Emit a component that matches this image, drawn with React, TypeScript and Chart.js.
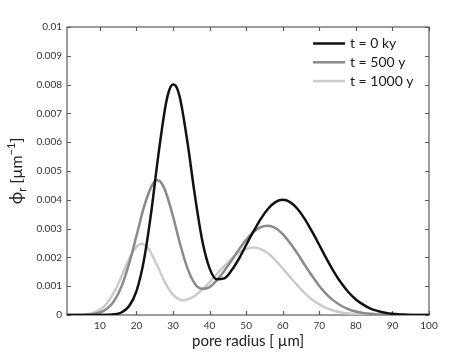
import React, { useEffect, useRef } from "react";
import { Chart, registerables } from "chart.js";

Chart.register(...registerables);

// ---- data ----
const seriesLabels = ["t = 0 ky", "t = 500 y", "t = 1000 y"];
const seriesColors = ["#111111", "#8a8a8a", "#cbcbcb"];

const xBlack = [1, 5, 10, 12, 14, 16, 18, 20, 22, 24, 26, 28, 29, 30, 31, 32, 34, 36, 38, 40, 42, 44, 46, 48, 50, 52, 54, 56, 58, 60, 62, 64, 66, 68, 70, 72, 74, 76, 78, 80, 82, 84, 86, 88, 90, 92, 95, 100];
const yBlack = [0, 0, 0, 0.000005, 0.000024, 0.000095, 0.00031, 0.00083, 0.00188, 0.00354, 0.00557, 0.0073, 0.00782, 0.008, 0.0079, 0.00747, 0.00595, 0.00413, 0.00258, 0.00162, 0.00124, 0.00127, 0.00155, 0.00195, 0.00243, 0.0029, 0.00334, 0.00369, 0.00392, 0.004, 0.00392, 0.00369, 0.00334, 0.0029, 0.00243, 0.00195, 0.0015, 0.00111, 0.00079, 0.00054, 0.00036, 0.00022, 0.00014, 0.00008, 0.00004, 0.00002, 0, 0];

const xGray = [1, 6, 8, 10, 12, 14, 16, 18, 20, 22, 24, 25, 25.7, 26.5, 28, 30, 32, 34, 36, 38, 40, 42, 44, 46, 48, 50, 52, 54, 55.8, 58, 60, 62, 64, 66, 68, 70, 72, 74, 76, 78, 80, 82, 84, 86, 88, 90, 100];
const yGray = [0, 0.000009, 0.00003, 0.000087, 0.000225, 0.00051, 0.00102, 0.00179, 0.00275, 0.00373, 0.00444, 0.00464, 0.00468, 0.00464, 0.00427, 0.00342, 0.00243, 0.0016, 0.00108, 0.00091, 0.00097, 0.00121, 0.00153, 0.00189, 0.00227, 0.00261, 0.00288, 0.00305, 0.0031, 0.00302, 0.00281, 0.0025, 0.00214, 0.00174, 0.00136, 0.00101, 0.00072, 0.00049, 0.00032, 0.0002, 0.00012, 0.00007, 0.00004, 0.00002, 0.00001, 0, 0];

const xLight = [1, 4, 6, 8, 10, 12, 14, 16, 18, 20, 21.4, 23, 24, 26, 28, 30, 32, 33, 34, 36, 38, 40, 42, 44, 46, 48, 50, 52, 54, 56, 58, 60, 62, 64, 66, 68, 70, 72, 74, 76, 78, 80, 82, 85, 100];
const yLight = [0, 0.000006, 0.000021, 0.000068, 0.00018, 0.00042, 0.00082, 0.00137, 0.00195, 0.00236, 0.00247, 0.00235, 0.00215, 0.00163, 0.00108, 0.0007, 0.00053, 0.00051, 0.00054, 0.00067, 0.00088, 0.00114, 0.00142, 0.0017, 0.00195, 0.00216, 0.00229, 0.00234, 0.00229, 0.00214, 0.0019, 0.00162, 0.00132, 0.00103, 0.00076, 0.00054, 0.00037, 0.00024, 0.00015, 0.00009, 0.00005, 0.00003, 0.00001, 0, 0];

const xTicks = [10, 20, 30, 40, 50, 60, 70, 80, 90, 100];
const yTicks = [0, 0.001, 0.002, 0.003, 0.004, 0.005, 0.006, 0.007, 0.008, 0.009, 0.01];

// y-axis title pieces: text, font size, baseline shift (sub/superscript)
const yTitleParts: [string, number, number][] = [
  ["ϕ", 17, 0],
  ["r", 11, 4],
  [" [µm", 16, 0],
  ["−1", 11, -7],
  ["]", 16, 0],
];

const FONT = "Lato, 'Open Sans', sans-serif";

const boxPlugin = {
  id: "matlabBox",
  beforeDatasetsDraw(chart: any) {
    const { ctx, chartArea } = chart;
    const { left, right, top, bottom } = chartArea;
    const xs = chart.scales.x;
    const ys = chart.scales.y;
    const tl = 4;
    ctx.save();
    ctx.strokeStyle = "#5a5a5a";
    ctx.lineWidth = 1.2;
    ctx.strokeRect(left, top, right - left, bottom - top);
    ctx.beginPath();
    xTicks.forEach((v) => {
      const px = Math.round(xs.getPixelForValue(v)) + 0.5;
      ctx.moveTo(px, bottom);
      ctx.lineTo(px, bottom - tl);
      ctx.moveTo(px, top);
      ctx.lineTo(px, top + tl);
    });
    yTicks.forEach((v) => {
      const py = Math.round(ys.getPixelForValue(v)) + 0.5;
      ctx.moveTo(left, py);
      ctx.lineTo(left + tl, py);
      ctx.moveTo(right, py);
      ctx.lineTo(right - tl, py);
    });
    ctx.stroke();
    ctx.restore();
  },
  afterDraw(chart: any) {
    const { ctx, chartArea } = chart;
    ctx.save();
    // legend
    chart.data.datasets.forEach((ds: any, i: number) => {
      const y = chartArea.top + 16.5 + i * 18.8;
      const x0 = chartArea.right - 116;
      ctx.strokeStyle = ds.borderColor;
      ctx.lineWidth = 2.5;
      ctx.beginPath();
      ctx.moveTo(x0, y);
      ctx.lineTo(x0 + 32, y);
      ctx.stroke();
      ctx.fillStyle = "#1a1a1a";
      ctx.font = `14px ${FONT}`;
      ctx.textBaseline = "middle";
      ctx.textAlign = "left";
      ctx.fillText(ds.label, x0 + 37, y);
    });
    // y-axis title with sub/superscript
    ctx.translate(22, (chartArea.top + chartArea.bottom) / 2);
    ctx.rotate(-Math.PI / 2);
    ctx.fillStyle = "#222";
    ctx.textBaseline = "alphabetic";
    ctx.textAlign = "left";
    let total = 0;
    const widths = yTitleParts.map(([t, s]) => {
      ctx.font = `${s}px ${FONT}`;
      const w = ctx.measureText(t).width;
      total += w;
      return w;
    });
    let x = -total / 2;
    yTitleParts.forEach(([t, s, dy], i) => {
      ctx.font = `${s}px ${FONT}`;
      ctx.fillText(t, x, dy);
      x += widths[i];
    });
    ctx.restore();
  },
};

export default function App() {
  const ref = useRef<HTMLCanvasElement | null>(null);
  useEffect(() => {
    if (!ref.current) return;
    const mk = (xs: number[], ys: number[]) => xs.map((x, i) => ({ x, y: ys[i] }));
    const chart = new Chart(ref.current, {
      type: "line",
      data: {
        datasets: [
          { label: seriesLabels[0], data: mk(xBlack, yBlack), borderColor: seriesColors[0] },
          { label: seriesLabels[1], data: mk(xGray, yGray), borderColor: seriesColors[1] },
          { label: seriesLabels[2], data: mk(xLight, yLight), borderColor: seriesColors[2] },
        ].map((d) => ({
          ...d,
          borderWidth: 2.5,
          pointRadius: 0,
          fill: false,
          cubicInterpolationMode: "monotone" as const,
        })),
      },
      options: {
        responsive: false,
        animation: false,
        layout: { padding: { left: 0, top: 27, right: 45, bottom: 0 } },
        plugins: { legend: { display: false }, tooltip: { enabled: false } },
        scales: {
          x: {
            type: "linear",
            min: 1,
            max: 100,
            grid: { display: false, drawTicks: false },
            border: { display: false },
            afterBuildTicks: (s: any) => {
              s.ticks = xTicks.map((v) => ({ value: v }));
            },
            afterFit: (s: any) => {
              s.height = 40;
            },
            ticks: {
              padding: 5,
              color: "#333",
              font: { family: FONT, size: 10 },
              maxRotation: 0,
              callback: (v: any) => String(v),
            },
            title: {
              display: true,
              text: "pore radius [ µm]",
              color: "#222",
              font: { family: FONT, size: 15 },
              padding: { top: 0, bottom: 5 },
            },
          },
          y: {
            type: "linear",
            min: 0,
            max: 0.01,
            grid: { display: false, drawTicks: false },
            border: { display: false },
            afterBuildTicks: (s: any) => {
              s.ticks = yTicks.map((v) => ({ value: v }));
            },
            afterFit: (s: any) => {
              s.width = 67;
            },
            ticks: {
              padding: 5,
              color: "#333",
              font: { family: FONT, size: 10 },
              callback: (v: any) => (v === 0 ? "0" : String(+Number(v).toFixed(3))),
            },
          },
        },
      },
      plugins: [boxPlugin],
    });
    return () => chart.destroy();
  }, []);
  return (
    <div style={{ position: "fixed", left: 0, top: 0, width: 474, height: 355, background: "#fff" }}>
      <canvas ref={ref} width={474} height={355} style={{ display: "block" }} />
    </div>
  );
}
